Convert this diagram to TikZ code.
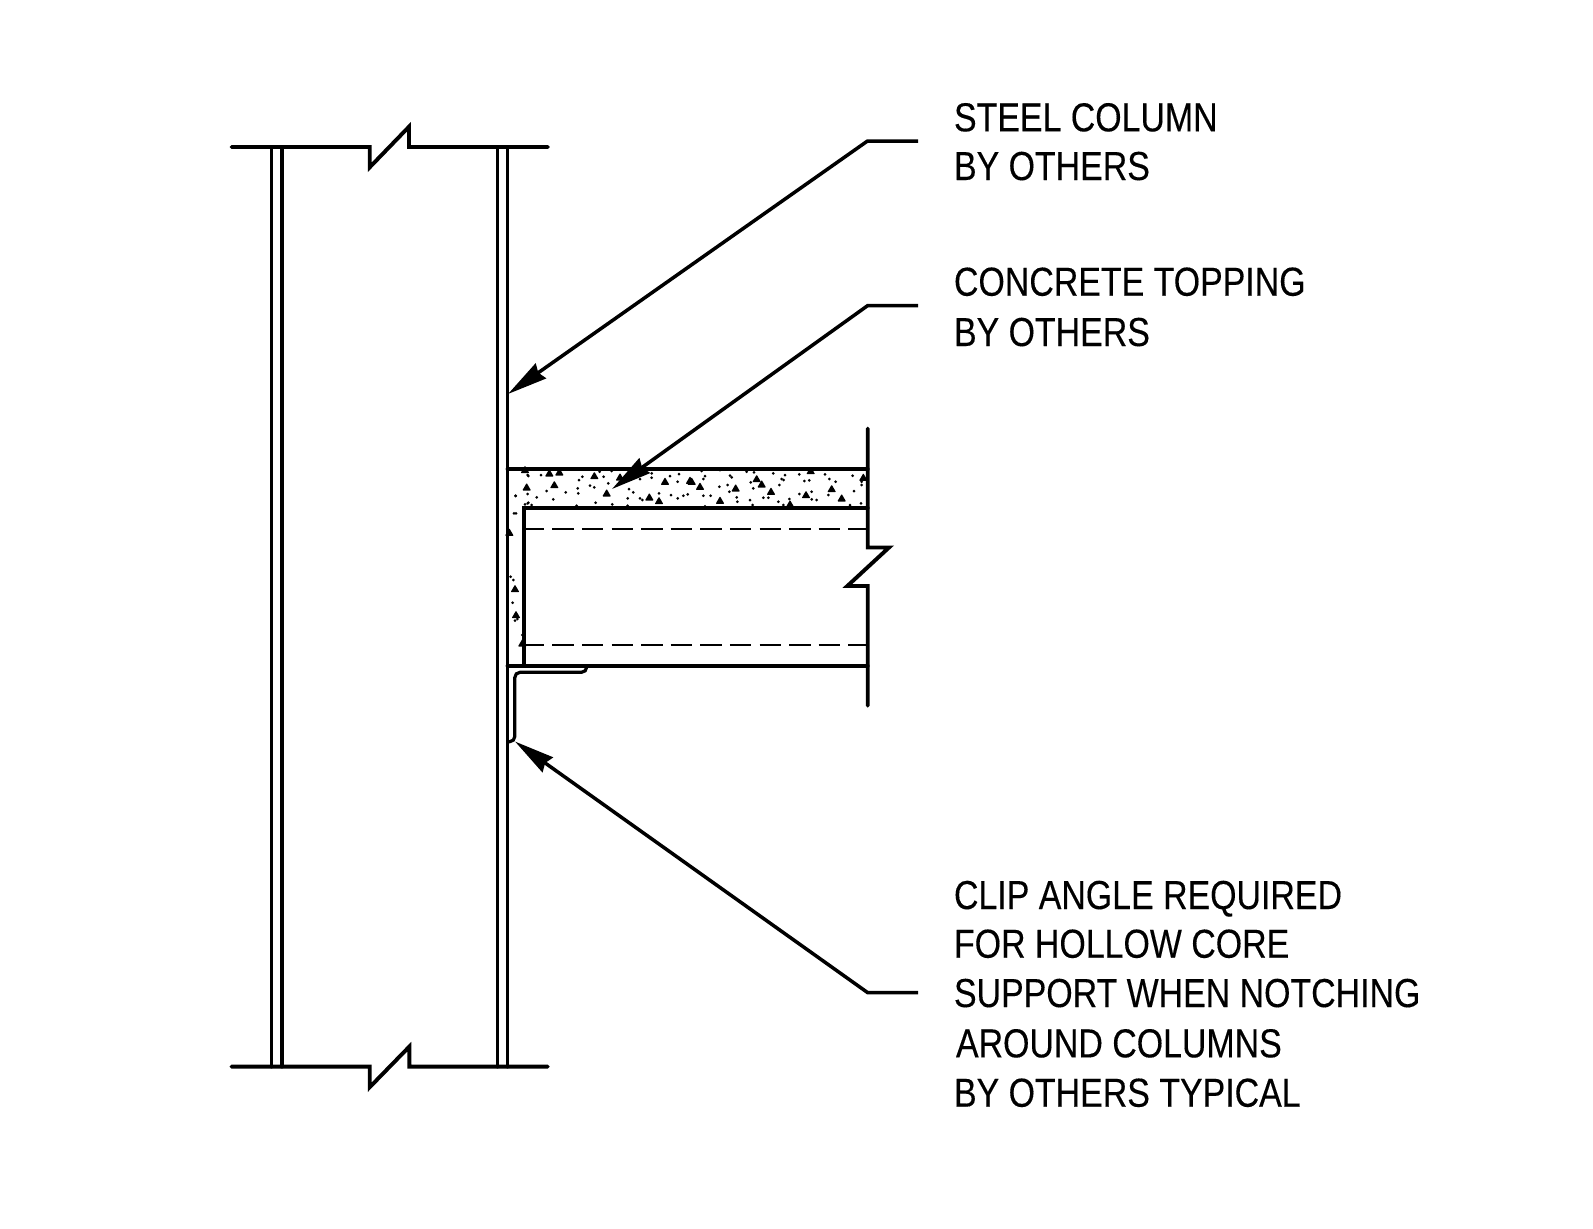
\documentclass[tikz,border=0pt]{standalone}
\usepackage{fontspec}
\setmainfont{Liberation Sans}[FakeStretch=0.837,FakeBold=0.25]
\usetikzlibrary{arrows.meta}
\tikzset{
  x=0.5pt,y=-0.5pt,
  heavy/.style={line width=1.95pt,line cap=round,line join=miter,black},
  hidden/.style={line width=1.1pt,black,dash pattern=on 10.7pt off 4.1pt},
  leader/.style={line width=1.75pt,black,line join=miter,-{Stealth[length=20pt,width=9pt,inset=1.5pt]}},
  note/.style={anchor=base west,inner sep=0pt,outer sep=0pt,font=\fontsize{20.25}{24}\selectfont,text=black}
}
\newcommand{\spk}[1]{\foreach \a/\b in {#1}{\fill[black] ({\ox+\a/3},{\oy+\b/3}) circle (1.5);}}
\newcommand{\tri}[1]{\foreach \a/\b in {#1}{\fill[black,rounded corners=0.4pt] ({\ox+\a/3-4.4},{\oy+\b/3+3.2})--({\ox+\a/3+4.4},{\oy+\b/3+3.2})--({\ox+\a/3},{\oy+\b/3-4.4})--cycle;}}
\begin{document}
\begin{tikzpicture}
\useasboundingbox (0,0) rectangle (1593,1228);
\fill[white] (0,0) rectangle (1593,1228);
% speckle of the topping
\def\ox{505}\def\oy{465}
\spk{70/33,108/30,232/35,222/45,284/20,296/35,320/18,310/55,255/62,268/67,218/70,220/85,182/82,125/78,95/97,32/92,68/87,70/113,145/103,272/113,322/118,372/72,385/82,368/100,405/100,412/105,440/25,440/38,405/42,495/33,522/27,518/50,548/88,535/92,518/100,498/90,462/85,215/122,368/122,68/30,60/118}
\tri{133/25,163/22,268/33,148/60,65/67,305/85,345/37,480/50,555/47,433/97,462/108,60/15}
\def\ox{690}\def\oy{465}
\spk{35/18,90/15,170/20,192/22,250/25,120/32,125/37,45/33,40/42,182/52,88/65,113/60,118/80,190/70,268/60,285/30,275/42,281/45,328/28,343/48,358/46,405/28,418/42,437/50,488/32,515/50,515/60,492/78,415/90,40/92,62/92,140/97,142/110,180/105,220/98,235/98,265/110,298/102,328/87,365/80,365/103,380/105,513/115,480/120,188/120,45/124,280/120}
\tri{5/50,30/65,137/70,215/58,200/42,243/80,90/107,348/90,425/72,455/100,520/38,362/18,300/118}
\def\ox{490}\def\oy{450}
\spk{78/190,72/190,68/458,75/512,82/507,97/555,77/138,113/160,125/165,70/390,62/380}
\tri{75/417,78/495,58/248,97/580}
% column
\coordinate (cL) at (231.5,147);
\coordinate (cR) at (548,147);
\draw[heavy] (cL) -- (369.7,147) -- (369.7,167.3) -- (409,126.7) -- (409,147) -- (cR);
\draw[heavy] (231.5,1066.6) -- (369.7,1066.6) -- (369.7,1087.2) -- (409.3,1046.6) -- (409.3,1066.6) -- (547.7,1066.6);
\foreach \cx in {271.5,281.7,497.5,507.5} \draw[heavy] (\cx,147) -- (\cx,1066.6);
% topping and hollow core
\draw[heavy] (507.5,469) -- (867.7,469);
\draw[heavy] (867.7,665.7) -- (507.5,665.7);
\draw[heavy] (523.7,665.7) -- (523.7,507.7) -- (867.7,507.7);
\draw[heavy] (867.7,428.6) -- (867.7,547.5) -- (889,547.5) -- (847.3,586) -- (867.7,586) -- (867.7,705.7);
\draw[hidden] (522.7,529.3) -- (867,529.3);
\draw[hidden] (522.7,644.7) -- (867,644.7);
% clip angle
\draw[line width=1.6pt,black,line cap=round,rounded corners=2.6pt] (586.7,666) -- (586.7,672.3) -- (514.8,672.3) -- (514.8,741.7) -- (508,741.7);
% notes
\node[note] (n1a) at (954,131.3) {STEEL COLUMN};
\node[note] (n1b) at (954,180) {BY OTHERS};
\node[note] (n2a) at (954,295.7) {CONCRETE TOPPING};
\node[note] (n2b) at (954,346) {BY OTHERS};
\node[note] (n3a) at (954,909) {CLIP ANGLE REQUIRED};
\node[note] (n3b) at (954,957.7) {FOR HOLLOW CORE};
\node[note] (n3c) at (954,1007) {SUPPORT WHEN NOTCHING};
\node[note] (n3d) at (956,1057.3) {AROUND COLUMNS};
\node[note] (n3e) at (954,1106.7) {BY OTHERS TYPICAL};
% leaders
\coordinate (t1) at (508,394);
\coordinate (t2) at (612,489);
\coordinate (t3) at (515,741.5);
\coordinate (s1) at (918,141);
\coordinate (s2) at (918,305.7);
\coordinate (s3) at (918,992.5);
\draw[leader] (s1) -- (867.5,141) -- (t1);
\draw[leader] (s2) -- (867.5,305.7) -- (t2);
\draw[leader] (s3) -- (867.5,992.5) -- (t3);
\end{tikzpicture}
\end{document}
